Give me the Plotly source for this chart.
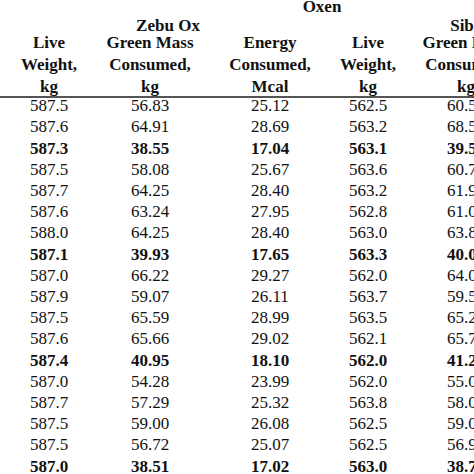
import plotly.graph_objects as go

# Zebu Ox / Siboney Ox table (visible part)
zebu_weight = [587.5, 587.6, 587.3, 587.5, 587.7, 587.6, 588.0, 587.1, 587.0,
               587.9, 587.5, 587.6, 587.4, 587.0, 587.7, 587.5, 587.5, 587.0]
zebu_mass = [56.83, 64.91, 38.55, 58.08, 64.25, 63.24, 64.25, 39.93, 66.22,
             59.07, 65.59, 65.66, 40.95, 54.28, 57.29, 59.00, 56.72, 38.51]
zebu_energy = [25.12, 28.69, 17.04, 25.67, 28.40, 27.95, 28.40, 17.65, 29.27,
               26.11, 28.99, 29.02, 18.10, 23.99, 25.32, 26.08, 25.07, 17.02]
sibo_weight = [562.5, 563.2, 563.1, 563.6, 563.2, 562.8, 563.0, 563.3, 562.0,
               563.7, 563.5, 562.1, 562.0, 562.0, 563.8, 562.5, 562.5, 563.0]
sibo_mass = [60.53, 68.52, 39.54, 60.71, 61.93, 61.06, 63.80, 40.05, 64.04,
             59.58, 65.24, 65.71, 41.23, 55.06, 58.07, 59.04, 56.95, 38.74]
summary_rows = [2, 7, 12, 17]

columns = [
    ("Live<br>Weight,<br>kg", zebu_weight, "{:.1f}", 49),
    ("Green Mass<br>Consumed,<br>kg", zebu_mass, "{:.2f}", 150),
    ("Energy<br>Consumed,<br>Mcal", zebu_energy, "{:.2f}", 270),
    ("Live<br>Weight,<br>kg", sibo_weight, "{:.1f}", 368),
    ("Green Mass<br>Consumed,<br>kg", sibo_mass, "{:.2f}", 466),
]

font = dict(family="Liberation Serif, Times New Roman, serif", size=17, color="#111")
row_top, row_step = 107, 21.2

fig = go.Figure()
for header, vals, fmt, xc in columns:
    texts = []
    for i, v in enumerate(vals):
        s = fmt.format(v)
        texts.append(f"<b>{s}</b>" if i in summary_rows else s)
    ys = [row_top + i * row_step for i in range(len(vals))]
    fig.add_trace(go.Scatter(x=[xc] * len(vals), y=ys, mode="text", text=texts,
                             textfont=font, cliponaxis=True, hoverinfo="skip"))
    fig.add_trace(go.Scatter(x=[xc], y=[66], mode="text", text=[f"<b>{header}</b>"],
                             textfont=font, cliponaxis=True, hoverinfo="skip"))

fig.add_trace(go.Scatter(x=[168, 322, 492], y=[27, 8, 27], mode="text",
                         text=["<b>Zebu Ox</b>", "<b>Oxen</b>", "<b>Siboney Ox</b>"],
                         textfont=font, cliponaxis=True, hoverinfo="skip"))

fig.add_shape(type="line", x0=0, x1=474, y0=97, y1=97,
              line=dict(color="#555", width=2))

fig.update_layout(
    width=474, height=474, margin=dict(l=0, r=0, t=0, b=0),
    paper_bgcolor="white", plot_bgcolor="white", showlegend=False,
    xaxis=dict(range=[0, 474], visible=False, fixedrange=True),
    yaxis=dict(range=[474, 0], visible=False, fixedrange=True),
)
fig.write_html("out.html", config={"displayModeBar": False},
               post_script="document.body.style.margin='0';document.body.style.overflow='hidden';")
